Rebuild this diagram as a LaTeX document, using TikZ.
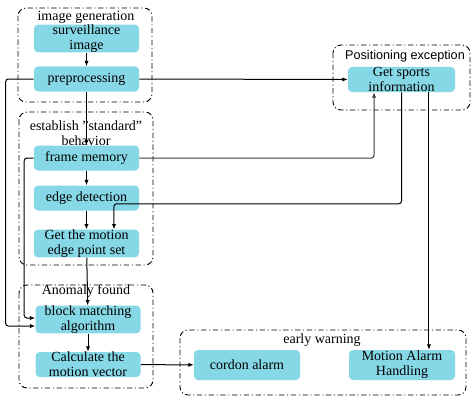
\documentclass[tikz,border=0pt]{standalone}
\usepackage{fontspec}
\setmainfont{Liberation Serif}
\newfontfamily\labelsans{Liberation Sans}
\usepackage{tikz}
\usetikzlibrary{arrows.meta}
\definecolor{boxcyan}{HTML}{86D8E6}
\definecolor{linegray}{HTML}{3A3A3A}

\tikzset{
    stagebox/.style={rectangle, rounded corners=3pt, fill=boxcyan, align=center,
        inner sep=0pt, minimum width=78.75pt, minimum height=18.75pt,
        font=\rmfamily\fontsize{10.5}{11.25}\selectfont},
    groupframe/.style={line width=0.7pt, rounded corners=6pt,
        dash pattern=on 4pt off 2pt on 0.8pt off 2pt},
    grouptitle/.style={align=center, inner sep=0pt, font=\rmfamily\fontsize{10.5}{11.25}\selectfont},
    flow/.style={line width=0.75pt, rounded corners=2pt, -{Latex[length=4pt,width=3.2pt]}},
}

\begin{document}
\begin{tikzpicture}[x=7.5pt, y=-7.5pt]
    \useasboundingbox (0,0) rectangle (47.4,40.3);

    % Group frames
    \draw[groupframe] (1.8,0.8) rectangle (15.2,10.2);
    \draw[groupframe] (1.9,11.2) rectangle (15.3,26.5);
    \draw[groupframe] (1.9,28.5) rectangle (15.3,38.8);
    \draw[groupframe] (18.0,33.0) rectangle (46.6,39.5);
    \draw[groupframe] (33.3,4.5) rectangle (47.0,11.0);

    % Group titles
    \node[grouptitle] (tgen) at (8.6,1.75) {image generation};
    \node[grouptitle] (tstd) at (8.6,13.35) {establish "standard"\\behavior};
    \node[grouptitle] (tano) at (8.6,29.1) {Anomaly found};
    \node[grouptitle] (twarn) at (32.2,34.0) {early warning};
    \node[grouptitle, font=\labelsans\fontsize{9.5}{10}\selectfont] (tpos) at (40.5,5.6) {Positioning exception};

    % Stages
    \node[stagebox] (surv) at (8.65,3.85) {surveillance\\image};
    \node[stagebox] (pre) at (8.65,7.9) {preprocessing};
    \node[stagebox] (frame) at (8.65,15.8) {frame memory};
    \node[stagebox] (edge) at (8.65,19.8) {edge detection};
    \node[stagebox] (edgepts) at (8.65,24.35) {Get the motion\\edge point set};
    \node[stagebox] (block) at (8.8,31.95) {block matching\\algorithm};
    \node[stagebox] (calc) at (8.8,36.45) {Calculate the\\motion vector};
    \node[stagebox, minimum width=79.5pt, minimum height=22.5pt] (cordon) at (24.7,36.5) {cordon alarm};
    \node[stagebox, minimum width=79.5pt, minimum height=22.5pt] (motion) at (40.2,36.5) {Motion Alarm\\Handling};
    \node[stagebox, minimum width=80.25pt] (sports) at (40.15,7.95) {Get sports\\information};

    % Main flow
    \draw[flow] (surv) -- (pre);
    \draw[flow] (pre) -- (frame);
    \draw[flow] (frame) -- (edge);
    \draw[flow] (edge) -- (edgepts);
    \draw[flow] (edgepts) -- (block);
    \draw[flow] (block) -- (calc);
    \draw[flow] (calc) -- (cordon);
    \draw[flow] (pre) -- (sports);

    % Side links
    \draw[flow] (pre.west) -- ++(-2.8,0) |- ([yshift=-4.9pt]block.west);
    \draw[flow] (frame.west) -- ++(-0.95,0) |- ([yshift=1.1pt]block.west);
    \draw[flow, linegray] (frame.east) -| ([xshift=-20.6pt]sports.south);
    \draw[flow] (sports.south) |- ([xshift=20.6pt,yshift=5.25pt]edge.south) -- ([xshift=20.6pt]edgepts.north);
    \draw[flow] ([xshift=20.6pt]sports.south) -- ([xshift=20.6pt]sports.south |- motion.north);
\end{tikzpicture}
\end{document}
